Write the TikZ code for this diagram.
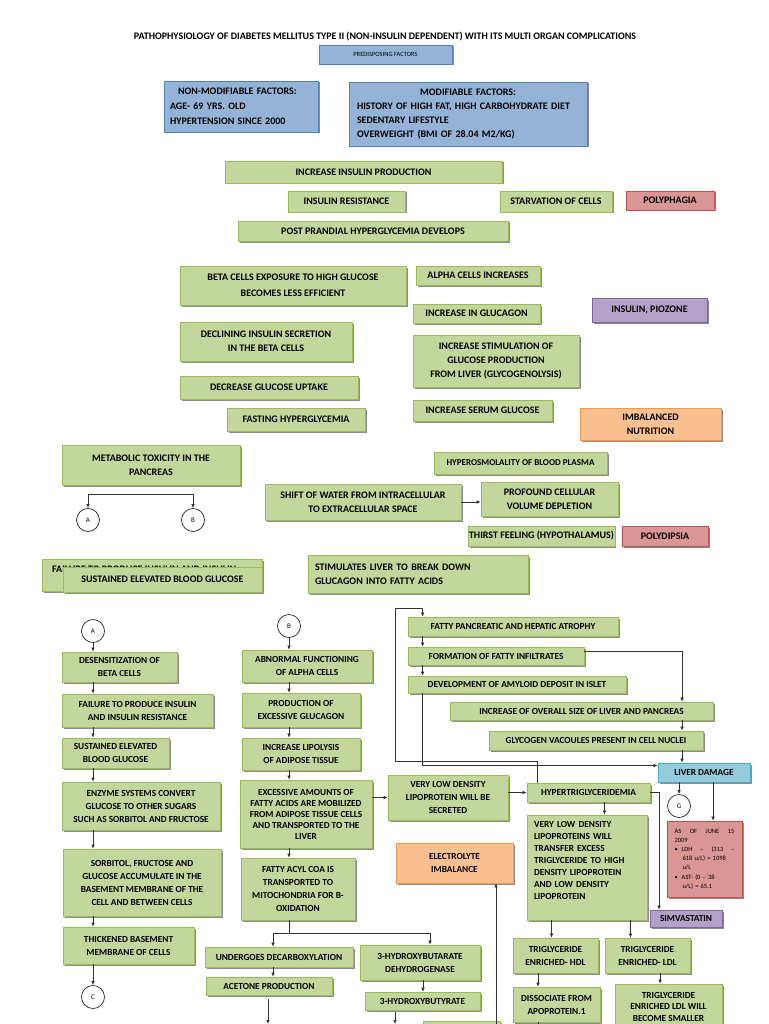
\documentclass[tikz,border=0pt]{standalone}
\usepackage{fontspec}
\setmainfont{Carlito}
\usetikzlibrary{arrows.meta, shadows}
\definecolor{oliveFill}{HTML}{C3D69B}
\definecolor{oliveLine}{HTML}{9BBB59}
\definecolor{skyFill}{HTML}{95B3D7}
\definecolor{skyLine}{HTML}{4F81BD}
\definecolor{roseFill}{HTML}{D99694}
\definecolor{roseLine}{HTML}{C0504D}
\definecolor{lilacFill}{HTML}{B3A2C7}
\definecolor{lilacLine}{HTML}{8064A2}
\definecolor{peachFill}{HTML}{FAC090}
\definecolor{peachLine}{HTML}{F79646}
\definecolor{aquaFill}{HTML}{93CDDD}
\definecolor{aquaLine}{HTML}{4BACC6}

\begin{document}
\begin{tikzpicture}[x=1pt, y=-1pt, font={\bfseries\fontsize{10}{14}\selectfont},
    box/.style={draw, line width=0.7pt, inner sep=1pt, align=center,
      drop shadow={shadow xshift=1.5pt, shadow yshift=-1.5pt, opacity=1, fill=black!45}},
    gbox/.style={box, draw=oliveLine, fill=oliveFill},
    bbox/.style={box, draw=skyLine, fill=skyFill},
    rbox/.style={box, draw=roseLine, fill=roseFill},
    pbox/.style={box, draw=lilacLine, fill=lilacFill},
    obox/.style={box, draw=peachLine, fill=peachFill},
    cbox/.style={box, draw=aquaLine, fill=aquaFill},
    dims/.style 2 args={minimum width=#1pt, minimum height=#2pt},
    low/.style={font={\bfseries\fontsize{9.3}{13}\selectfont}},
    circ/.style={circle, draw=black!85, line width=0.7pt, fill=white, minimum size=23pt,
      inner sep=0pt, font={\fontsize{7}{8}\selectfont}},
    arr/.style={-{Latex[length=4pt, width=3.5pt]}, line width=0.6pt, black!80},
    ln/.style={line width=0.6pt, black!80}]
  \fill[white] (0,0) rectangle (768,1024);
  \useasboundingbox (0,0) rectangle (768,1024);

  % title and predisposing factors
  \node[font={\bfseries\fontsize{10}{12}\selectfont}] (title) at (385,37)
    {PATHOPHYSIOLOGY OF DIABETES MELLITUS TYPE II (NON-INSULIN DEPENDENT) WITH ITS MULTI ORGAN COMPLICATIONS};
  \node[bbox, dims={133}{19}, font={\fontsize{6.5}{8}\selectfont}] (predisp) at (385.5,54.5) {PREDISPOSING FACTORS};
  \node[bbox, dims={154}{51}, align=left, text width=142pt, inner xsep=6pt,
        font={\bfseries\fontsize{10}{15}\selectfont}] (nonmod) at (241,106.5)
    {\hspace*{8pt}NON-MODIFIABLE FACTORS:\\AGE- 69 YRS. OLD\\HYPERTENSION SINCE 2000};
  \node[bbox, dims={238}{64}, align=left, text width=222pt, inner xsep=8pt] (modif) at (468,114)
    {\hspace*{\fill}MODIFIABLE FACTORS:\hspace*{\fill}\mbox{}\\HISTORY OF HIGH FAT, HIGH CARBOHYDRATE DIET\\SEDENTARY LIFESTYLE\\OVERWEIGHT (BMI OF 28.04 M2/KG)};

  % upper chain
  \node[gbox, dims={277}{22}] (incprod) at (363.5,172) {INCREASE INSULIN PRODUCTION};
  \node[gbox, dims={117}{21}] (insres) at (346.5,201.5) {INSULIN RESISTANCE};
  \node[gbox, dims={112}{21}] (starv) at (556,201.5) {STARVATION OF CELLS};
  \node[rbox, dims={88}{19}] (polyphag) at (670,200.5) {POLYPHAGIA};
  \node[gbox, dims={270}{20}] (postpr) at (373,231) {POST PRANDIAL HYPERGLYCEMIA DEVELOPS};
  \node[gbox, dims={226}{39}] (betaexp) at (293,285.5) {BETA CELLS EXPOSURE TO HIGH GLUCOSE\\[2pt]BECOMES LESS EFFICIENT};
  \node[gbox, dims={124}{19}] (alphainc) at (478,275.5) {ALPHA CELLS INCREASES};
  \node[gbox, dims={127}{19}] (incgluc) at (476.5,313.5) {INCREASE IN GLUCAGON};
  \node[pbox, dims={115}{24}] (insulinpio) at (649.5,310) {INSULIN, PIOZONE};
  \node[gbox, dims={172}{39}] (declin) at (266,341.5) {DECLINING INSULIN SECRETION\\IN THE BETA CELLS};
  \node[gbox, dims={166}{52}] (incstim) at (496,361) {INCREASE STIMULATION OF\\GLUCOSE PRODUCTION\\FROM LIVER (GLYCOGENOLYSIS)};
  \node[gbox, dims={178}{23}] (decupt) at (269,387.5) {DECREASE GLUCOSE UPTAKE};
  \node[gbox, dims={138}{23}] (fasting) at (296,419.5) {FASTING HYPERGLYCEMIA};
  \node[gbox, dims={139}{21}] (incserum) at (482.5,410.5) {INCREASE SERUM GLUCOSE};
  \node[obox, dims={141}{32}] (imbal) at (650.5,424) {IMBALANCED\\NUTRITION};
  \node[gbox, dims={178}{40}] (metab) at (151,465) {METABOLIC TOXICITY IN THE\\PANCREAS};
  \node[gbox, dims={173}{22}, font={\bfseries\fontsize{9}{12}\selectfont}] (hyperosm) at (520.5,463) {HYPEROSMOLALITY OF BLOOD PLASMA};
  \node[circ] (circa) at (88,520) {A};
  \node[circ] (circb) at (193,520) {B};
  \coordinate (splitab) at (140,494);
  \draw[arr] (splitab) -| (circa);
  \draw[arr] (splitab) -| (circb);
  \node[gbox, dims={196}{36}] (shift) at (363,502) {SHIFT OF WATER FROM INTRACELLULAR\\TO EXTRACELLULAR SPACE};
  \node[gbox, dims={137}{34}] (profound) at (549.5,499) {PROFOUND CELLULAR\\VOLUME DEPLETION};
  \draw[arr] (shift.east) -- (profound.west |- shift.east);
  \node[gbox, dims={139}{20}] (thirst) at (541.5,536) {THIRST FEELING (HYPOTHALAMUS)};
  \node[rbox, dims={86}{20}] (polydip) at (665,536) {POLYDIPSIA};
  \node[gbox, dims={220}{32}] (failback) at (152,575) {};
  \node[anchor=west, inner sep=0pt] (failbacktxt) at (52,569.5) {FAILURE TO PRODUCE INSULIN AND INSULIN};
  \node[gbox, dims={199}{25}] (sustfront) at (162.5,579.5) {SUSTAINED ELEVATED BLOOD GLUCOSE};
  \node[gbox, dims={220}{38}, align=left, text width=206pt, inner xsep=7pt] (stimliv) at (418,574)
    {STIMULATES LIVER TO BREAK DOWN\\GLUCAGON INTO FATTY ACIDS};

  % branch A
  \node[circ] (circa2) at (93,631) {A};
  \node[gbox, low, dims={115}{30}] (desens) at (119.5,667) {DESENSITIZATION OF\\BETA CELLS};
  \node[gbox, low, dims={151}{33}] (failprod) at (137.5,710.5) {FAILURE TO PRODUCE INSULIN\\AND INSULIN RESISTANCE};
  \node[gbox, low, dims={107}{30}] (sustain) at (115.5,753) {SUSTAINED ELEVATED\\BLOOD GLUCOSE};
  \node[gbox, low, dims={158}{48}] (enzyme) at (141,806) {ENZYME SYSTEMS CONVERT\\GLUCOSE TO OTHER SUGARS\\SUCH AS SORBITOL AND FRUCTOSE};
  \node[gbox, low, dims={158}{67}] (sorbitol) at (142,882.5) {SORBITOL, FRUCTOSE AND\\GLUCOSE ACCUMULATE IN THE\\BASEMENT MEMBRANE OF THE\\CELL AND BETWEEN CELLS};
  \node[gbox, low, dims={131}{37}] (thick) at (128.5,945.5) {THICKENED BASEMENT\\MEMBRANE OF CELLS};
  \node[circ] (circc) at (93,997) {C};
  \draw[arr] (circa2) -- (desens.north -| circa2);
  \draw[arr] (desens.south -| circa2) -- (failprod.north -| circa2);
  \draw[arr] (failprod.south -| circa2) -- (sustain.north -| circa2);
  \draw[arr] (sustain.south -| circa2) -- (enzyme.north -| circa2);
  \draw[arr] (enzyme.south -| circa2) -- (sorbitol.north -| circa2);
  \draw[arr] (sorbitol.south -| circa2) -- (thick.north -| circa2);
  \draw[arr] (thick.south -| circc) -- (circc);

  % branch B
  \node[circ] (circb2) at (289,626) {B};
  \node[gbox, low, dims={130}{32}] (abnorm) at (307,666) {ABNORMAL FUNCTIONING\\OF ALPHA CELLS};
  \node[gbox, low, dims={118}{34}] (prodexc) at (301,710) {PRODUCTION OF\\EXCESSIVE GLUCAGON};
  \node[gbox, low, dims={118}{32}] (lipol) at (301,754) {INCREASE LIPOLYSIS\\OF ADIPOSE TISSUE};
  \node[gbox, dims={132}{68}, font={\bfseries\fontsize{9.3}{11}\selectfont}] (excess) at (306,814)
    {EXCESSIVE AMOUNTS OF\\FATTY ACIDS ARE MOBILIZED\\FROM ADIPOSE TISSUE CELLS\\AND TRANSPORTED TO THE\\LIVER};
  \node[gbox, low, dims={114}{62}] (acyl) at (298,889) {FATTY ACYL COA IS\\TRANSPORTED TO\\MITOCHONDRIA FOR B-\\OXIDATION};
  \draw[arr] (circb2) -- (abnorm.north -| circb2);
  \draw[arr] (abnorm.south -| circb2) -- (prodexc.north -| circb2);
  \draw[arr] (prodexc.south -| circb2) -- (lipol.north -| circb2);
  \draw[arr] (lipol.south -| circb2) -- (excess.north -| circb2);
  \draw[arr] (excess.south -| circb2) -- (acyl.north -| circb2);
  \coordinate (ketsplit) at (289,933);
  \draw[ln] (acyl.south -| circb2) -- (ketsplit);
  \node[gbox, low, dims={148}{20}] (undergo) at (279,957) {UNDERGOES DECARBOXYLATION};
  \node[gbox, low, dims={126}{18}] (acetone) at (269,986) {ACETONE PRODUCTION};
  \node[gbox, low, dims={120}{35}] (hbdh) at (420,962.5) {3-HYDROXYBUTARATE\\DEHYDROGENASE};
  \node[gbox, low, dims={115}{18}] (hbut) at (422.5,1001) {3-HYDROXYBUTYRATE};
  \draw[arr] (ketsplit) -| ([xshift=-6pt]undergo.north);
  \draw[arr] (ketsplit) -| ([xshift=10pt]hbdh.north);
  \draw[arr] ([xshift=-6pt]undergo.south) -- ([xshift=-6pt]undergo.south |- acetone.north);
  \draw[arr] ([xshift=3pt]hbdh.south) -- ([xshift=3pt]hbdh.south |- hbut.north);
  \coordinate (acetout) at (268,1024);
  \coordinate (hbutout) at (395,1024);
  \draw[arr] ([yshift=-4pt]acetone.south -| acetout) -- (acetout);
  \draw[arr] ([yshift=-2pt]hbut.south -| hbutout) -- (hbutout);
  \node[gbox, dims={77}{14}] (cutbox) at (461.5,1028) {};
  \node[obox, low, dims={117}{40}] (electro) at (454.5,863) {ELECTROLYTE\\IMBALANCE};
  \coordinate (electroin) at (496,1024);
  \draw[arr] (electroin) -- (electroin |- electro.south);

  % liver and pancreas
  \node[gbox, low, dims={210}{19}] (fatatro) at (513,626.5) {FATTY PANCREATIC AND HEPATIC ATROPHY};
  \node[gbox, low, dims={176}{18}] (fatinf) at (496,656) {FORMATION OF FATTY INFILTRATES};
  \node[gbox, low, dims={218}{17}] (amyloid) at (517,684.5) {DEVELOPMENT OF AMYLOID DEPOSIT IN ISLET};
  \node[gbox, low, dims={263}{18}] (overall) at (581.5,711) {INCREASE OF OVERALL SIZE OF LIVER AND PANCREAS};
  \node[gbox, low, dims={214}{19}] (glycvac) at (596,740.5) {GLYCOGEN VACOULES PRESENT IN CELL NUCLEI};
  \node[cbox, low, dims={92}{19}] (liverdmg) at (704,772.5) {LIVER DAMAGE};
  \draw[arr] ([xshift=15pt]fatatro.south west) -- ([xshift=15pt]fatatro.south west |- fatinf.north);
  \draw[arr] ([xshift=15pt]fatinf.south west) -- ([xshift=15pt]fatinf.south west |- amyloid.north);
  \draw[arr] ([yshift=5pt]fatinf.east) -| ([xshift=-22pt]liverdmg.north |- overall.north);
  \draw[arr] ([xshift=-22pt]liverdmg.north |- overall.south) -- ([xshift=-22pt]liverdmg.north |- glycvac.north);
  \draw[arr] ([xshift=-22pt]liverdmg.north |- glycvac.south) -- ([xshift=-22pt]liverdmg.north);
  \draw[arr] ([xshift=15pt]amyloid.south west) |- ([yshift=7pt]liverdmg.west);
  \node[circ] (circg) at (679,806) {G};
  \draw[arr] (liverdmg.south -| circg) -- (circg);
  \node[rbox, dims={75}{76}, align=left, text width=60pt, inner xsep=7.5pt,
        font={\fontsize{6.5}{9.2}\selectfont}] (ldh) at (704.5,859)
    {AS\hfill OF\hfill JUNE\hfill 15\\2009\\\textbullet\hspace{4pt}LDH\hfill –\hfill (313\hfill –\\\hspace*{8pt}618 u/L) = 1098\\\hspace*{8pt}u/L\\\textbullet\hspace{4pt}AST- (0 – 38\\\hspace*{8pt}u/L) = 65.1};
  \draw[arr] ([xshift=9pt]liverdmg.south) -- ([xshift=9pt]liverdmg.south |- ldh.north);

  % lipoproteins
  \node[gbox, low, dims={120}{45}] (vldl) at (448,797.5) {VERY LOW DENSITY\\LIPOPROTEIN WILL BE\\SECRETED};
  \node[gbox, low, dims={123}{19}] (hypertrig) at (588.5,792.5) {HYPERTRIGLYCERIDEMIA};
  \draw[arr] (excess.east |- vldl.west) -- (vldl.west);
  \draw[arr] (vldl.east |- hypertrig.west) -- (hypertrig.west);
  \coordinate (loopa) at (395,761);
  \coordinate (loopb) at (395,608);
  \draw[arr] ([xshift=11pt]hypertrig.north west) |- (loopa) -- (loopb) -| ([xshift=15pt]fatatro.north west);
  \node[gbox, low, dims={120}{105}, align=left, text width=106pt, inner xsep=7pt,
        font={\bfseries\fontsize{9.3}{12}\selectfont}] (vtrans) at (587,867.5)
    {VERY LOW DENSITY\\LIPOPROTEINS WILL\\TRANSFER EXCESS\\TRIGLYCERIDE TO HIGH\\DENSITY LIPOPROTEIN\\AND LOW DENSITY\\LIPOPROTEIN\\[3pt]\mbox{}};
  \draw[arr] ([xshift=16pt]hypertrig.south) -- ([xshift=16pt]hypertrig.south |- vtrans.north);
  \node[pbox, low, dims={72}{17}] (simva) at (686,918.5) {SIMVASTATIN};
  \draw[arr] (hypertrig.east) -| ([xshift=-27pt]simva.north);
  \node[gbox, low, dims={85}{35}] (tghdl) at (555.5,955.5) {TRIGLYCERIDE\\ENRICHED- HDL};
  \node[gbox, low, dims={85}{35}] (tgldl) at (647.5,955.5) {TRIGLYCERIDE\\ENRICHED- LDL};
  \draw[arr] ([xshift=-4pt]tghdl.north |- vtrans.south) -- ([xshift=-4pt]tghdl.north);
  \draw[arr] ([xshift=-17pt]tgldl.north |- vtrans.south) -- ([xshift=-17pt]tgldl.north);
  \node[gbox, low, dims={87}{35}] (dissoc) at (556.5,1004.5) {DISSOCIATE FROM\\APOPROTEIN.1};
  \node[gbox, low, dims={107}{45}, font={\bfseries\fontsize{9.3}{11.5}\selectfont}] (smaller) at (668.5,1006.5) {TRIGLYCERIDE\\ENRICHED LDL WILL\\BECOME SMALLER};
  \draw[arr] ([xshift=-17.5pt]tghdl.south) -- ([xshift=-17.5pt]tghdl.south |- dissoc.north);
  \draw[arr] ([xshift=12.5pt]tgldl.south) -- ([xshift=12.5pt]tgldl.south |- smaller.north);
  \coordinate (dissocout) at (538,1024);
  \draw[ln] (dissocout |- dissoc.south) -- (dissocout);
\end{tikzpicture}
\end{document}
